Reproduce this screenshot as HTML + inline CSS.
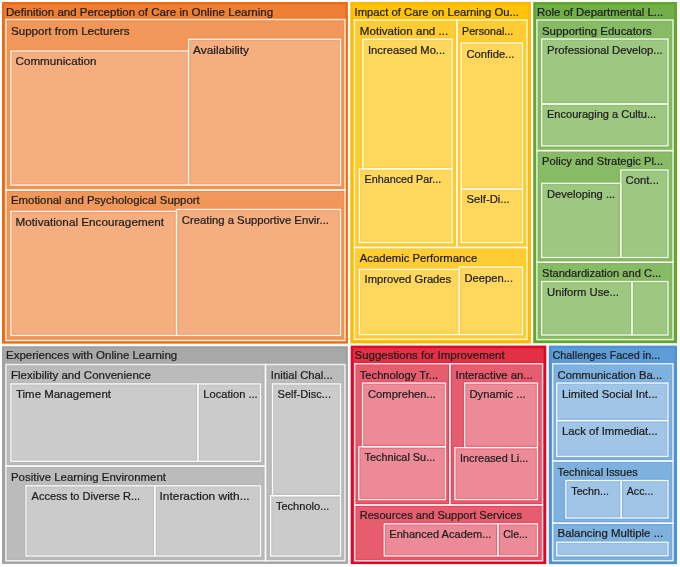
<!DOCTYPE html>
<html lang="en"><head><meta charset="utf-8"><title>Treemap</title>
<style>
html,body{margin:0;padding:0;background:#fff}
body{width:680px;height:567px;overflow:hidden}
svg{display:block}
text{font-family:"Liberation Sans",Arial,sans-serif;font-size:11.3px;fill:#1c1c1c;stroke:#1c1c1c;stroke-width:0.22px}
</style></head><body>
<svg width="680" height="567" viewBox="0 0 680 567">
<rect width="680" height="567" fill="#ffffff"/>
<g class="orange">
<rect x="3.30" y="3.30" width="343.30" height="339.05" fill="#ee7f34" stroke="#ea6e18" stroke-width="2.6"/>
<rect x="5.90" y="19.50" width="339.10" height="170.60" fill="#f1975a"/>
<rect x="5.90" y="190.10" width="339.10" height="150.40" fill="#f1975a"/>
<g fill="none" stroke="#ea6e18" stroke-opacity="0.16" stroke-width="3.8">
<rect x="5.90" y="19.50" width="339.10" height="170.60"/>
<rect x="5.90" y="190.10" width="339.10" height="150.40"/>
</g>
<g fill="none" stroke="#ffffff" stroke-opacity="0.8" stroke-width="1.5">
<rect x="5.90" y="19.50" width="339.10" height="170.60"/>
<rect x="5.90" y="190.10" width="339.10" height="150.40"/>
</g>
<rect x="10.90" y="51.00" width="177.60" height="134.10" fill="#f4ae7f"/>
<rect x="188.50" y="39.20" width="152.00" height="145.90" fill="#f4ae7f"/>
<rect x="10.90" y="211.30" width="165.60" height="124.20" fill="#f4ae7f"/>
<rect x="176.50" y="209.40" width="164.00" height="126.10" fill="#f4ae7f"/>
<g fill="none" stroke="#ea6e18" stroke-opacity="0.16" stroke-width="3.8">
<rect x="10.90" y="51.00" width="177.60" height="134.10"/>
<rect x="188.50" y="39.20" width="152.00" height="145.90"/>
<rect x="10.90" y="211.30" width="165.60" height="124.20"/>
<rect x="176.50" y="209.40" width="164.00" height="126.10"/>
</g>
<g fill="none" stroke="#ffffff" stroke-opacity="0.92" stroke-width="1.3">
<rect x="10.90" y="51.00" width="177.60" height="134.10"/>
<rect x="188.50" y="39.20" width="152.00" height="145.90"/>
<rect x="10.90" y="211.30" width="165.60" height="124.20"/>
<rect x="176.50" y="209.40" width="164.00" height="126.10"/>
</g>
<text x="6.00" y="15.55" textLength="267.20" lengthAdjust="spacingAndGlyphs">Definition and Perception of Care in Online Learning</text>
<text x="11.00" y="34.55" textLength="118.45" lengthAdjust="spacingAndGlyphs">Support from Lecturers</text>
<text x="15.50" y="65.05" textLength="80.95" lengthAdjust="spacingAndGlyphs">Communication</text>
<text x="193.00" y="54.30" textLength="55.95" lengthAdjust="spacingAndGlyphs">Availability</text>
<text x="11.00" y="204.30" textLength="188.70" lengthAdjust="spacingAndGlyphs">Emotional and Psychological Support</text>
<text x="15.50" y="225.55" textLength="148.45" lengthAdjust="spacingAndGlyphs">Motivational Encouragement</text>
<text x="181.75" y="223.80" textLength="147.20" lengthAdjust="spacingAndGlyphs">Creating a Supportive Envir...</text>
</g>
<g class="yellow">
<rect x="351.60" y="3.30" width="178.00" height="338.80" fill="#ffc308" stroke="#ffb800" stroke-width="2.6"/>
<rect x="354.40" y="20.00" width="102.60" height="227.50" fill="#ffcd33"/>
<rect x="457.00" y="20.00" width="70.00" height="227.50" fill="#ffcd33"/>
<rect x="354.40" y="247.50" width="172.60" height="91.80" fill="#ffcd33"/>
<g fill="none" stroke="#ffb800" stroke-opacity="0.16" stroke-width="3.8">
<rect x="354.40" y="20.00" width="102.60" height="227.50"/>
<rect x="457.00" y="20.00" width="70.00" height="227.50"/>
<rect x="354.40" y="247.50" width="172.60" height="91.80"/>
</g>
<g fill="none" stroke="#ffffff" stroke-opacity="0.8" stroke-width="1.5">
<rect x="354.40" y="20.00" width="102.60" height="227.50"/>
<rect x="457.00" y="20.00" width="70.00" height="227.50"/>
<rect x="354.40" y="247.50" width="172.60" height="91.80"/>
</g>
<rect x="362.80" y="39.20" width="89.20" height="129.70" fill="#ffd75c"/>
<rect x="359.40" y="168.90" width="92.60" height="73.60" fill="#ffd75c"/>
<rect x="461.25" y="43.00" width="61.25" height="146.20" fill="#ffd75c"/>
<rect x="461.25" y="189.20" width="61.25" height="53.30" fill="#ffd75c"/>
<rect x="359.40" y="269.40" width="99.85" height="65.20" fill="#ffd75c"/>
<rect x="459.25" y="267.00" width="63.25" height="67.60" fill="#ffd75c"/>
<g fill="none" stroke="#ffb800" stroke-opacity="0.16" stroke-width="3.8">
<rect x="362.80" y="39.20" width="89.20" height="129.70"/>
<rect x="359.40" y="168.90" width="92.60" height="73.60"/>
<rect x="461.25" y="43.00" width="61.25" height="146.20"/>
<rect x="461.25" y="189.20" width="61.25" height="53.30"/>
<rect x="359.40" y="269.40" width="99.85" height="65.20"/>
<rect x="459.25" y="267.00" width="63.25" height="67.60"/>
</g>
<g fill="none" stroke="#ffffff" stroke-opacity="0.92" stroke-width="1.3">
<rect x="362.80" y="39.20" width="89.20" height="129.70"/>
<rect x="359.40" y="168.90" width="92.60" height="73.60"/>
<rect x="461.25" y="43.00" width="61.25" height="146.20"/>
<rect x="461.25" y="189.20" width="61.25" height="53.30"/>
<rect x="359.40" y="269.40" width="99.85" height="65.20"/>
<rect x="459.25" y="267.00" width="63.25" height="67.60"/>
</g>
<text x="354.50" y="15.55" textLength="164.45" lengthAdjust="spacingAndGlyphs">Impact of Care on Learning Ou...</text>
<text x="359.80" y="34.55" textLength="88.40" lengthAdjust="spacingAndGlyphs">Motivation and ...</text>
<text x="368.00" y="54.30" textLength="77.20" lengthAdjust="spacingAndGlyphs">Increased Mo...</text>
<text x="364.60" y="183.05" textLength="76.60" lengthAdjust="spacingAndGlyphs">Enhanced Par...</text>
<text x="462.00" y="34.55" textLength="51.20" lengthAdjust="spacingAndGlyphs">Personal...</text>
<text x="466.50" y="58.05" textLength="47.95" lengthAdjust="spacingAndGlyphs">Confide...</text>
<text x="466.50" y="203.15" textLength="43.20" lengthAdjust="spacingAndGlyphs">Self-Di...</text>
<text x="359.80" y="261.80" textLength="117.40" lengthAdjust="spacingAndGlyphs">Academic Performance</text>
<text x="364.60" y="283.05" textLength="86.60" lengthAdjust="spacingAndGlyphs">Improved Grades</text>
<text x="464.50" y="281.55" textLength="48.50" lengthAdjust="spacingAndGlyphs">Deepen...</text>
</g>
<g class="green">
<rect x="534.50" y="3.30" width="141.20" height="338.60" fill="#72af48" stroke="#62a62d" stroke-width="2.6"/>
<rect x="536.90" y="20.00" width="136.10" height="130.60" fill="#88bb66"/>
<rect x="536.90" y="150.60" width="136.10" height="111.70" fill="#88bb66"/>
<rect x="536.90" y="262.30" width="136.10" height="77.30" fill="#88bb66"/>
<g fill="none" stroke="#62a62d" stroke-opacity="0.16" stroke-width="3.8">
<rect x="536.90" y="20.00" width="136.10" height="130.60"/>
<rect x="536.90" y="150.60" width="136.10" height="111.70"/>
<rect x="536.90" y="262.30" width="136.10" height="77.30"/>
</g>
<g fill="none" stroke="#ffffff" stroke-opacity="0.8" stroke-width="1.5">
<rect x="536.90" y="20.00" width="136.10" height="130.60"/>
<rect x="536.90" y="150.60" width="136.10" height="111.70"/>
<rect x="536.90" y="262.30" width="136.10" height="77.30"/>
</g>
<rect x="541.70" y="39.00" width="126.30" height="65.00" fill="#9ec782"/>
<rect x="541.70" y="104.00" width="126.30" height="41.80" fill="#9ec782"/>
<rect x="541.70" y="183.25" width="79.10" height="74.25" fill="#9ec782"/>
<rect x="620.80" y="170.00" width="47.20" height="87.50" fill="#9ec782"/>
<rect x="541.70" y="281.50" width="90.30" height="53.50" fill="#9ec782"/>
<rect x="632.00" y="281.50" width="36.00" height="53.50" fill="#9ec782"/>
<g fill="none" stroke="#62a62d" stroke-opacity="0.16" stroke-width="3.8">
<rect x="541.70" y="39.00" width="126.30" height="65.00"/>
<rect x="541.70" y="104.00" width="126.30" height="41.80"/>
<rect x="541.70" y="183.25" width="79.10" height="74.25"/>
<rect x="620.80" y="170.00" width="47.20" height="87.50"/>
<rect x="541.70" y="281.50" width="90.30" height="53.50"/>
<rect x="632.00" y="281.50" width="36.00" height="53.50"/>
</g>
<g fill="none" stroke="#ffffff" stroke-opacity="0.92" stroke-width="1.3">
<rect x="541.70" y="39.00" width="126.30" height="65.00"/>
<rect x="541.70" y="104.00" width="126.30" height="41.80"/>
<rect x="541.70" y="183.25" width="79.10" height="74.25"/>
<rect x="620.80" y="170.00" width="47.20" height="87.50"/>
<rect x="541.70" y="281.50" width="90.30" height="53.50"/>
<rect x="632.00" y="281.50" width="36.00" height="53.50"/>
</g>
<text x="537.00" y="15.55" textLength="126.20" lengthAdjust="spacingAndGlyphs">Role of Departmental L...</text>
<text x="542.00" y="34.55" textLength="109.70" lengthAdjust="spacingAndGlyphs">Supporting Educators</text>
<text x="547.00" y="54.30" textLength="115.70" lengthAdjust="spacingAndGlyphs">Professional Develop...</text>
<text x="547.00" y="118.05" textLength="109.20" lengthAdjust="spacingAndGlyphs">Encouraging a Cultu...</text>
<text x="542.00" y="165.05" textLength="121.20" lengthAdjust="spacingAndGlyphs">Policy and Strategic Pl...</text>
<text x="547.00" y="198.05" textLength="68.20" lengthAdjust="spacingAndGlyphs">Developing ...</text>
<text x="625.50" y="184.30" textLength="33.45" lengthAdjust="spacingAndGlyphs">Cont...</text>
<text x="542.00" y="276.80" textLength="119.20" lengthAdjust="spacingAndGlyphs">Standardization and C...</text>
<text x="547.00" y="295.55" textLength="71.95" lengthAdjust="spacingAndGlyphs">Uniform Use...</text>
</g>
<g class="grey">
<rect x="3.30" y="347.50" width="343.30" height="215.10" fill="#a8a8a8" stroke="#a0a2a2" stroke-width="2.6"/>
<rect x="5.90" y="364.50" width="259.60" height="101.60" fill="#bbbbbb"/>
<rect x="5.90" y="466.10" width="259.60" height="94.70" fill="#bbbbbb"/>
<rect x="265.50" y="364.50" width="79.50" height="196.30" fill="#bbbbbb"/>
<g fill="none" stroke="#a0a2a2" stroke-opacity="0.16" stroke-width="3.8">
<rect x="5.90" y="364.50" width="259.60" height="101.60"/>
<rect x="5.90" y="466.10" width="259.60" height="94.70"/>
<rect x="265.50" y="364.50" width="79.50" height="196.30"/>
</g>
<g fill="none" stroke="#ffffff" stroke-opacity="0.8" stroke-width="1.5">
<rect x="5.90" y="364.50" width="259.60" height="101.60"/>
<rect x="5.90" y="466.10" width="259.60" height="94.70"/>
<rect x="265.50" y="364.50" width="79.50" height="196.30"/>
</g>
<rect x="10.90" y="383.90" width="187.10" height="77.40" fill="#cbcbcb"/>
<rect x="198.00" y="383.90" width="62.50" height="77.40" fill="#cbcbcb"/>
<rect x="26.00" y="485.80" width="128.85" height="70.20" fill="#cbcbcb"/>
<rect x="154.85" y="485.80" width="105.65" height="70.20" fill="#cbcbcb"/>
<rect x="272.50" y="383.90" width="68.00" height="111.80" fill="#cbcbcb"/>
<rect x="270.60" y="495.70" width="69.90" height="60.30" fill="#cbcbcb"/>
<g fill="none" stroke="#a0a2a2" stroke-opacity="0.16" stroke-width="3.8">
<rect x="10.90" y="383.90" width="187.10" height="77.40"/>
<rect x="198.00" y="383.90" width="62.50" height="77.40"/>
<rect x="26.00" y="485.80" width="128.85" height="70.20"/>
<rect x="154.85" y="485.80" width="105.65" height="70.20"/>
<rect x="272.50" y="383.90" width="68.00" height="111.80"/>
<rect x="270.60" y="495.70" width="69.90" height="60.30"/>
</g>
<g fill="none" stroke="#ffffff" stroke-opacity="0.92" stroke-width="1.3">
<rect x="10.90" y="383.90" width="187.10" height="77.40"/>
<rect x="198.00" y="383.90" width="62.50" height="77.40"/>
<rect x="26.00" y="485.80" width="128.85" height="70.20"/>
<rect x="154.85" y="485.80" width="105.65" height="70.20"/>
<rect x="272.50" y="383.90" width="68.00" height="111.80"/>
<rect x="270.60" y="495.70" width="69.90" height="60.30"/>
</g>
<text x="6.00" y="359.30" textLength="171.20" lengthAdjust="spacingAndGlyphs">Experiences with Online Learning</text>
<text x="11.00" y="378.80" textLength="139.95" lengthAdjust="spacingAndGlyphs">Flexibility and Convenience</text>
<text x="16.00" y="398.05" textLength="94.95" lengthAdjust="spacingAndGlyphs">Time Management</text>
<text x="203.25" y="398.05" textLength="54.45" lengthAdjust="spacingAndGlyphs">Location ...</text>
<text x="11.00" y="480.55" textLength="154.95" lengthAdjust="spacingAndGlyphs">Positive Learning Environment</text>
<text x="31.60" y="500.05" textLength="108.60" lengthAdjust="spacingAndGlyphs">Access to Diverse R...</text>
<text x="159.50" y="500.05" textLength="90.20" lengthAdjust="spacingAndGlyphs">Interaction with...</text>
<text x="270.75" y="378.80" textLength="61.95" lengthAdjust="spacingAndGlyphs">Initial Chal...</text>
<text x="277.60" y="398.05" textLength="53.35" lengthAdjust="spacingAndGlyphs">Self-Disc...</text>
<text x="275.90" y="510.05" textLength="53.55" lengthAdjust="spacingAndGlyphs">Technolo...</text>
</g>
<g class="red">
<rect x="352.00" y="346.90" width="193.00" height="215.90" fill="#e23044" stroke="#de0826" stroke-width="2.6"/>
<rect x="354.70" y="363.75" width="95.20" height="141.25" fill="#e65d6f"/>
<rect x="449.90" y="363.75" width="92.60" height="141.25" fill="#e65d6f"/>
<rect x="354.70" y="505.00" width="187.80" height="55.80" fill="#e65d6f"/>
<g fill="none" stroke="#de0826" stroke-opacity="0.16" stroke-width="3.8">
<rect x="354.70" y="363.75" width="95.20" height="141.25"/>
<rect x="449.90" y="363.75" width="92.60" height="141.25"/>
<rect x="354.70" y="505.00" width="187.80" height="55.80"/>
</g>
<g fill="none" stroke="#ffffff" stroke-opacity="0.8" stroke-width="1.5">
<rect x="354.70" y="363.75" width="95.20" height="141.25"/>
<rect x="449.90" y="363.75" width="92.60" height="141.25"/>
<rect x="354.70" y="505.00" width="187.80" height="55.80"/>
</g>
<rect x="362.50" y="383.00" width="83.00" height="63.75" fill="#ed8a97"/>
<rect x="358.75" y="446.75" width="86.75" height="52.85" fill="#ed8a97"/>
<rect x="464.70" y="383.00" width="72.80" height="64.60" fill="#ed8a97"/>
<rect x="454.90" y="447.60" width="82.60" height="52.00" fill="#ed8a97"/>
<rect x="384.25" y="523.80" width="113.75" height="32.20" fill="#ed8a97"/>
<rect x="498.00" y="523.80" width="39.50" height="32.20" fill="#ed8a97"/>
<g fill="none" stroke="#de0826" stroke-opacity="0.16" stroke-width="3.8">
<rect x="362.50" y="383.00" width="83.00" height="63.75"/>
<rect x="358.75" y="446.75" width="86.75" height="52.85"/>
<rect x="464.70" y="383.00" width="72.80" height="64.60"/>
<rect x="454.90" y="447.60" width="82.60" height="52.00"/>
<rect x="384.25" y="523.80" width="113.75" height="32.20"/>
<rect x="498.00" y="523.80" width="39.50" height="32.20"/>
</g>
<g fill="none" stroke="#ffffff" stroke-opacity="0.92" stroke-width="1.3">
<rect x="362.50" y="383.00" width="83.00" height="63.75"/>
<rect x="358.75" y="446.75" width="86.75" height="52.85"/>
<rect x="464.70" y="383.00" width="72.80" height="64.60"/>
<rect x="454.90" y="447.60" width="82.60" height="52.00"/>
<rect x="384.25" y="523.80" width="113.75" height="32.20"/>
<rect x="498.00" y="523.80" width="39.50" height="32.20"/>
</g>
<text x="354.50" y="358.80" textLength="150.20" lengthAdjust="spacingAndGlyphs">Suggestions for Improvement</text>
<text x="359.70" y="378.55" textLength="78.50" lengthAdjust="spacingAndGlyphs">Technology Tr...</text>
<text x="368.00" y="397.55" textLength="67.95" lengthAdjust="spacingAndGlyphs">Comprehen...</text>
<text x="364.50" y="461.30" textLength="70.70" lengthAdjust="spacingAndGlyphs">Technical Su...</text>
<text x="455.50" y="378.55" textLength="77.20" lengthAdjust="spacingAndGlyphs">Interactive an...</text>
<text x="469.50" y="397.55" textLength="56.20" lengthAdjust="spacingAndGlyphs">Dynamic ...</text>
<text x="460.00" y="462.05" textLength="68.20" lengthAdjust="spacingAndGlyphs">Increased Li...</text>
<text x="359.70" y="518.55" textLength="162.25" lengthAdjust="spacingAndGlyphs">Resources and Support Services</text>
<text x="389.25" y="538.05" textLength="102.20" lengthAdjust="spacingAndGlyphs">Enhanced Academ...</text>
<text x="503.25" y="538.05" textLength="24.45" lengthAdjust="spacingAndGlyphs">Cle...</text>
</g>
<g class="blue">
<rect x="550.10" y="346.90" width="125.60" height="216.00" fill="#5d9cd6" stroke="#4e92d2" stroke-width="2.6"/>
<rect x="552.70" y="363.75" width="120.30" height="97.25" fill="#7fb1de"/>
<rect x="552.70" y="461.00" width="120.30" height="62.20" fill="#7fb1de"/>
<rect x="552.70" y="523.20" width="120.30" height="37.50" fill="#7fb1de"/>
<g fill="none" stroke="#4e92d2" stroke-opacity="0.16" stroke-width="3.8">
<rect x="552.70" y="363.75" width="120.30" height="97.25"/>
<rect x="552.70" y="461.00" width="120.30" height="62.20"/>
<rect x="552.70" y="523.20" width="120.30" height="37.50"/>
</g>
<g fill="none" stroke="#ffffff" stroke-opacity="0.8" stroke-width="1.5">
<rect x="552.70" y="363.75" width="120.30" height="97.25"/>
<rect x="552.70" y="461.00" width="120.30" height="62.20"/>
<rect x="552.70" y="523.20" width="120.30" height="37.50"/>
</g>
<rect x="556.75" y="383.00" width="111.25" height="37.60" fill="#a0c5e7"/>
<rect x="556.75" y="420.60" width="111.25" height="35.80" fill="#a0c5e7"/>
<rect x="565.80" y="480.50" width="55.45" height="37.50" fill="#a0c5e7"/>
<rect x="621.25" y="480.50" width="46.75" height="37.50" fill="#a0c5e7"/>
<rect x="556.75" y="542.20" width="111.25" height="13.50" fill="#a0c5e7"/>
<g fill="none" stroke="#4e92d2" stroke-opacity="0.16" stroke-width="3.8">
<rect x="556.75" y="383.00" width="111.25" height="37.60"/>
<rect x="556.75" y="420.60" width="111.25" height="35.80"/>
<rect x="565.80" y="480.50" width="55.45" height="37.50"/>
<rect x="621.25" y="480.50" width="46.75" height="37.50"/>
<rect x="556.75" y="542.20" width="111.25" height="13.50"/>
</g>
<g fill="none" stroke="#ffffff" stroke-opacity="0.92" stroke-width="1.3">
<rect x="556.75" y="383.00" width="111.25" height="37.60"/>
<rect x="556.75" y="420.60" width="111.25" height="35.80"/>
<rect x="565.80" y="480.50" width="55.45" height="37.50"/>
<rect x="621.25" y="480.50" width="46.75" height="37.50"/>
<rect x="556.75" y="542.20" width="111.25" height="13.50"/>
</g>
<text x="552.50" y="358.80" textLength="107.70" lengthAdjust="spacingAndGlyphs">Challenges Faced in...</text>
<text x="557.50" y="378.55" textLength="104.70" lengthAdjust="spacingAndGlyphs">Communication Ba...</text>
<text x="562.00" y="397.55" textLength="95.70" lengthAdjust="spacingAndGlyphs">Limited Social Int...</text>
<text x="562.00" y="435.15" textLength="95.70" lengthAdjust="spacingAndGlyphs">Lack of Immediat...</text>
<text x="557.50" y="475.55" textLength="80.20" lengthAdjust="spacingAndGlyphs">Technical Issues</text>
<text x="571.25" y="495.05" textLength="37.70" lengthAdjust="spacingAndGlyphs">Techn...</text>
<text x="626.75" y="495.05" textLength="26.70" lengthAdjust="spacingAndGlyphs">Acc...</text>
<text x="557.50" y="536.80" textLength="105.70" lengthAdjust="spacingAndGlyphs">Balancing Multiple ...</text>
</g>
</svg>
</body></html>
